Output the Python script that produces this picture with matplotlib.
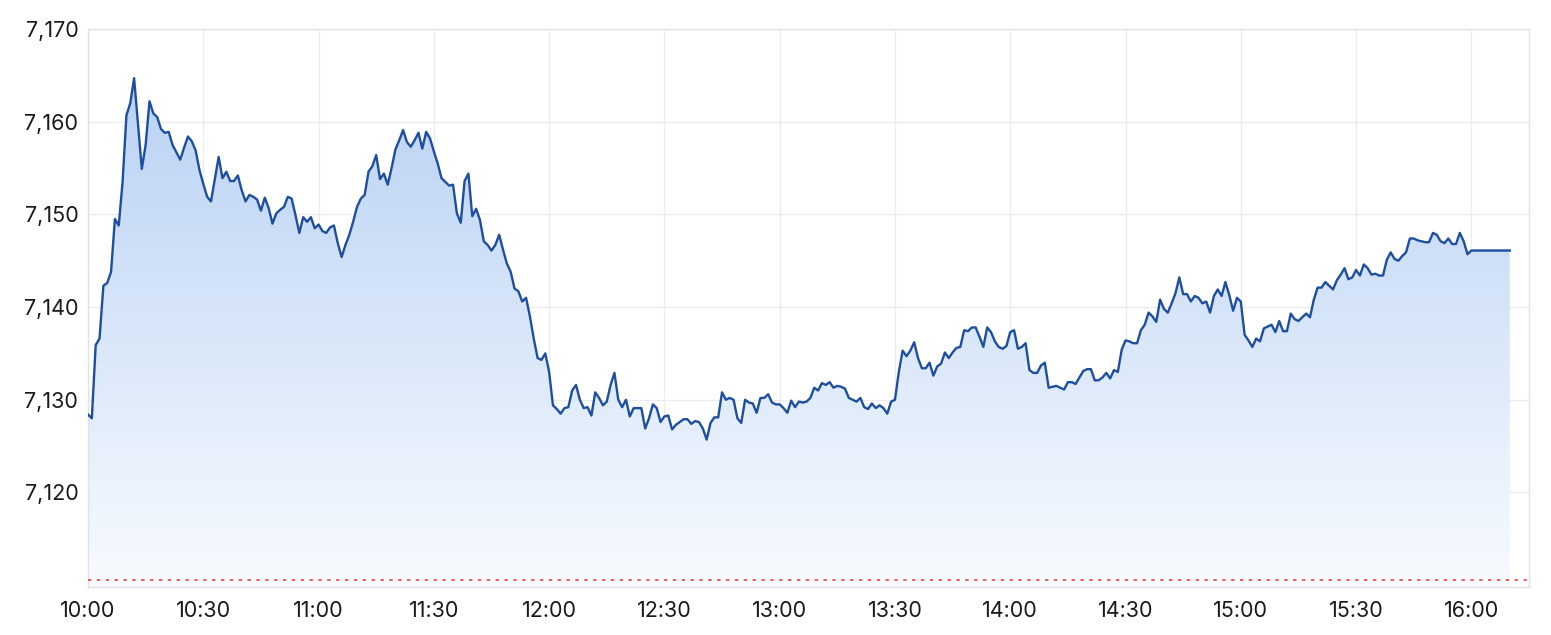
import numpy as np
import pandas as pd
import matplotlib
matplotlib.use("Agg")
import matplotlib.pyplot as plt
import matplotlib.dates as mdates
from matplotlib.colors import LinearSegmentedColormap

# one-minute index values, 10:00 -> 16:10
values = [
    7128.4, 7128.0, 7135.9, 7136.6, 7142.3, 7142.6, 7143.8, 7149.5, 7148.8, 7153.5,
    7160.7, 7162.0, 7164.7, 7159.8, 7154.9, 7157.5, 7162.2, 7160.9, 7160.5, 7159.2,
    7158.8, 7158.9, 7157.5, 7156.7, 7155.9, 7157.2, 7158.4, 7157.9, 7156.9, 7154.8,
    7153.3, 7151.9, 7151.4, 7153.8, 7156.2, 7153.9, 7154.6, 7153.6, 7153.6, 7154.2,
    7152.6, 7151.4, 7152.1, 7151.9, 7151.6, 7150.4, 7151.8, 7150.7, 7149.0, 7150.1,
    7150.5, 7150.8, 7151.9, 7151.7, 7149.9, 7148.0, 7149.7, 7149.2, 7149.7, 7148.5,
    7148.9, 7148.2, 7148.0, 7148.6, 7148.8, 7146.9, 7145.4, 7146.7, 7147.8, 7149.2,
    7150.8, 7151.7, 7152.1, 7154.6, 7155.2, 7156.4, 7153.8, 7154.4, 7153.2, 7155.0,
    7157.0, 7158.0, 7159.1, 7157.8, 7157.3, 7158.0, 7158.8, 7157.1, 7158.9, 7158.2,
    7156.8, 7155.5, 7153.9, 7153.5, 7153.1, 7153.2, 7150.1, 7149.1, 7153.6, 7154.4,
    7149.8, 7150.6, 7149.4, 7147.1, 7146.7, 7146.1, 7146.7, 7147.8, 7146.2, 7144.7,
    7143.8, 7142.0, 7141.7, 7140.6, 7141.0, 7139.0, 7136.6, 7134.5, 7134.3, 7135.0,
    7133.0, 7129.4, 7129.0, 7128.5, 7129.1, 7129.2, 7131.0, 7131.6, 7130.0, 7129.1,
    7129.2, 7128.3, 7130.8, 7130.2, 7129.4, 7129.8, 7131.6, 7132.9, 7130.0, 7129.2,
    7130.0, 7128.2, 7129.1, 7129.1, 7129.1, 7126.9, 7128.0, 7129.5, 7129.1, 7127.6,
    7128.2, 7128.3, 7126.8, 7127.3, 7127.6, 7127.9, 7127.9, 7127.4, 7127.7, 7127.6,
    7126.9, 7125.7, 7127.5, 7128.1, 7128.1, 7130.8, 7130.0, 7130.2, 7130.0, 7128.0,
    7127.5, 7130.0, 7129.7, 7129.6, 7128.6, 7130.2, 7130.2, 7130.6, 7129.7, 7129.5,
    7129.5, 7129.1, 7128.6, 7129.9, 7129.2, 7129.8, 7129.7, 7129.8, 7130.2, 7131.3,
    7131.0, 7131.8, 7131.6, 7131.9, 7131.3, 7131.5, 7131.4, 7131.2, 7130.2, 7130.0,
    7129.8, 7130.2, 7129.2, 7129.0, 7129.6, 7129.1, 7129.4, 7129.1, 7128.5, 7129.8,
    7130.0, 7133.0, 7135.3, 7134.7, 7135.3, 7136.2, 7134.5, 7133.4, 7133.4, 7134.0,
    7132.6, 7133.6, 7133.9, 7135.1, 7134.5, 7135.1, 7135.6, 7135.7, 7137.5, 7137.4,
    7137.8, 7137.8, 7136.8, 7135.7, 7137.8, 7137.3, 7136.3, 7135.7, 7135.5, 7135.8,
    7137.3, 7137.5, 7135.5, 7135.7, 7136.1, 7133.2, 7132.9, 7132.9, 7133.7, 7134.0,
    7131.3, 7131.4, 7131.5, 7131.3, 7131.1, 7131.9, 7131.9, 7131.7, 7132.4, 7133.1,
    7133.3, 7133.3, 7132.1, 7132.1, 7132.4, 7132.9, 7132.3, 7133.2, 7133.0, 7135.4,
    7136.4, 7136.3, 7136.1, 7136.1, 7137.5, 7138.1, 7139.4, 7139.0, 7138.4, 7140.8,
    7139.8, 7139.4, 7140.4, 7141.5, 7143.2, 7141.4, 7141.4, 7140.6, 7141.2, 7141.0,
    7140.4, 7140.6, 7139.4, 7141.2, 7141.9, 7141.2, 7142.7, 7141.3, 7139.6, 7141.0,
    7140.6, 7137.0, 7136.4, 7135.7, 7136.6, 7136.3, 7137.7, 7137.9, 7138.1, 7137.3,
    7138.5, 7137.4, 7137.4, 7139.3, 7138.7, 7138.5, 7138.9, 7139.3, 7138.9, 7140.8,
    7142.1, 7142.1, 7142.7, 7142.3, 7141.9, 7142.9, 7143.5, 7144.2, 7143.0, 7143.2,
    7144.0, 7143.4, 7144.6, 7144.2, 7143.5, 7143.6, 7143.4, 7143.4, 7145.1, 7145.9,
    7145.2, 7145.0, 7145.5, 7145.9, 7147.4, 7147.4, 7147.2, 7147.1, 7147.0, 7147.0,
    7148.0, 7147.8, 7147.1, 7146.9, 7147.4, 7146.8, 7146.8, 7148.0, 7147.1, 7145.7,
    7146.1, 7146.1, 7146.1, 7146.1, 7146.1, 7146.1, 7146.1, 7146.1, 7146.1, 7146.1,
    7146.1,
]
prev_close = 7110.6
start = "2024-01-02 10:00"
end = "2024-01-02 16:15"
y_ticks = [7120, 7130, 7140, 7150, 7160, 7170]

times = pd.date_range(start, periods=len(values), freq="min")
x = mdates.date2num(times)
ymin, ymax = 7109.8, 7170

plt.rcParams['font.family'] = ['Inter', 'DejaVu Sans']
fig = plt.figure(figsize=(15.51, 6.35), dpi=100)
ax = fig.add_axes([88/1551, 1-587/635, (1529-88)/1551, (587-29)/635])

x0, x1 = mdates.date2num(pd.Timestamp(start)), mdates.date2num(pd.Timestamp(end))
ax.set_xlim(x0, x1)
ax.set_ylim(ymin, ymax)

# gradient area under the line
cmap = LinearSegmentedColormap.from_list("area", ["#f8fbff", "#b3cef2"])
grad = np.linspace(0, 1, 256).reshape(-1, 1)
poly = ax.fill_between(x, values, ymin, color="none", lw=0)
img = ax.imshow(grad, cmap=cmap, aspect="auto", origin="lower",
                extent=[x0, x1, ymin, ymax], zorder=1)
img.set_clip_path(poly.get_paths()[0], transform=ax.transData)

ax.plot(x, values, color="#1d4f9e", lw=1.7, zorder=3)
ax.axhline(prev_close, color="#e8352c", lw=1.1, ls=(0, (2.2, 3.6)), zorder=4)

ax.xaxis.set_major_locator(mdates.MinuteLocator(byminute=[0, 30]))
ax.xaxis.set_major_formatter(mdates.DateFormatter("%H:%M"))
ax.set_yticks(y_ticks)
ax.yaxis.set_major_formatter(matplotlib.ticker.FuncFormatter(lambda v, p: f"{v:,.0f}"))

ax.grid(True, color="#ececec", lw=1, zorder=0)
ax.set_axisbelow(True)
for s in ax.spines.values():
    s.set_color("#e2e2e2")
    s.set_linewidth(1)
ax.tick_params(length=0, labelsize=15.5, colors="#1a1a1a")
ax.tick_params(axis="y", pad=7)
ax.tick_params(axis="x", pad=10)

fig.savefig("out.png", dpi=100)
